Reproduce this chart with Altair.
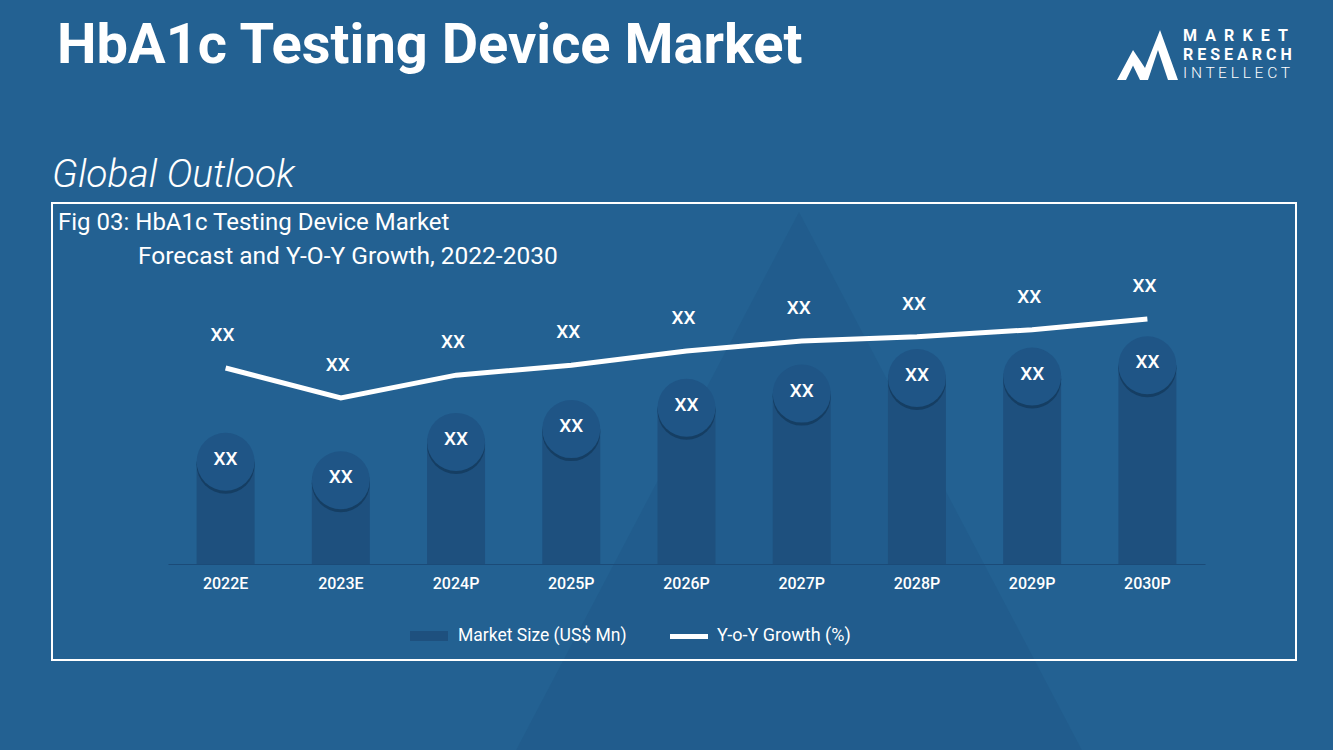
import altair as alt
import pandas as pd

# ---- data ----
years = ["2022E", "2023E", "2024P", "2025P", "2026P", "2027P", "2028P", "2029P", "2030P"]
market_size = [36, 29.5, 43, 47.5, 55, 60, 65.5, 66, 70]
yoy_growth = [13.8, 11.7, 13.3, 14.0, 15.0, 15.7, 16.0, 16.5, 17.25]
bar_labels = ["XX"] * 9
line_labels = ["XX"] * 9

df = pd.DataFrame({
    "year": years,
    "market_size": market_size,
    "yoy": yoy_growth,
    "bar_label": bar_labels,
    "line_label": line_labels,
})

BG = "#236192"
BAR = "#1e507e"
CIRCLE = "#1f5586"
SHADOW = "#143c60"
FONT = "Roboto"

x_enc = alt.X("year:N", sort=years, title=None,
              scale=alt.Scale(paddingInner=0, paddingOuter=0),
              axis=alt.Axis(labelColor="white", labelFontSize=16, labelFont=FONT,
                            labelFontWeight=500, ticks=False, domainColor="#1b4b78",
                            domainWidth=1, labelPadding=11, labelAngle=0, zindex=1))
y_ms = alt.Y("market_size:Q", scale=alt.Scale(domain=[0, 100]), axis=None)
y_g = alt.Y("yoy:Q", scale=alt.Scale(domain=[0, 20]), axis=None)

one = alt.Data(values=[{}])

# decorative background triangle (custom symbol path)
tri = alt.Chart(one).mark_point(
    shape="M0,-0.897L0.943,0.897L-0.943,0.897Z", filled=True, fill="#1a4d7c",
    opacity=0.22, strokeWidth=0, size=360000
).encode(x=alt.value(631), y=alt.value(201))

frame = alt.Chart(one).mark_rect(fill=None, stroke="white", strokeWidth=2).encode(
    x=alt.value(-116), x2=alt.value(1128), y=alt.value(-77), y2=alt.value(380))

base = alt.Chart(df)
bars = base.mark_bar(width=58, color=BAR).encode(x=x_enc, y=y_ms)
shadow = base.mark_circle(size=3364, color=SHADOW, opacity=0.9, yOffset=3).encode(x=x_enc, y=y_ms)
circ = base.mark_circle(size=3364, color=CIRCLE, opacity=1).encode(x=x_enc, y=y_ms)
blab = base.mark_text(color="white", fontSize=19, font=FONT, fontWeight=500, dy=-3).encode(
    x=x_enc, y=y_ms, text="bar_label:N")
line = base.mark_line(color="white", strokeWidth=5).encode(x=x_enc, y=y_g)
llab = base.mark_text(color="white", fontSize=19, font=FONT, fontWeight=500, dy=-33, dx=-3).encode(
    x=x_enc, y=y_g, text="line_label:N")

def txt(t, x, y, size, weight="normal", style="normal", align="left", baseline="alphabetic", color="white", font=FONT):
    return alt.Chart(one).mark_text(text=t, fontSize=size, fontWeight=weight, fontStyle=style,
                                    align=align, baseline=baseline, color=color, font=font).encode(
        x=alt.value(x), y=alt.value(y))

title = txt("HbA1c Testing Device Market", -111, -217, 56, weight="bold")
sub = txt("Global Outlook", -116, -93, 39, style="italic", weight=300)
fig1 = txt("Fig 03: HbA1c Testing Device Market", -110, -50, 24)
fig2 = txt("Forecast and Y-O-Y Growth, 2022-2030", -30, -16, 24.5)

leg_rect = alt.Chart(one).mark_rect(color=BAR).encode(
    x=alt.value(242), x2=alt.value(280), y=alt.value(351), y2=alt.value(361))
leg_t1 = txt("Market Size (US$ Mn)", 290, 356, 17.5, weight="normal", baseline="middle")
leg_rule = alt.Chart(one).mark_rule(color="white", strokeWidth=5).encode(
    x=alt.value(502), x2=alt.value(540), y=alt.value(356.5))
leg_t2 = txt("Y-o-Y Growth (%)", 549, 356, 18, weight="normal", baseline="middle")

logo = alt.Chart(one).mark_point(
    shape="M-1,0.82L-0.475,-0.164L-0.082,0.426L0.41,-0.82L1,0.82L0.672,0.82L0.344,-0.164L0.016,0.82L-0.246,0.82L-0.475,0.344L-0.705,0.82Z",
    filled=True, fill="white", strokeWidth=0, opacity=1, size=3721
).encode(x=alt.value(979.5), y=alt.value(-225))
lg1 = txt("M\u2002A\u2002R\u2002K\u2002E\u2002T", 1015, -244, 16, weight="bold", baseline="middle")
lg2 = txt("R E S E A R C H", 1015, -225, 16, weight="bold", baseline="middle")
lg3 = txt("I N T E L L E C T", 1015, -207, 15.5, weight=300, baseline="middle")

chart = alt.layer(
    tri, frame, bars, shadow, circ, blab, line, llab,
    title, sub, fig1, fig2, leg_rect, leg_t1, leg_rule, leg_t2, logo, lg1, lg2, lg3
).resolve_scale(y="independent").properties(
    width=1037, height=284,
    padding={"left": 168, "top": 280, "right": 128, "bottom": 186},
    autosize=alt.AutoSizeParams(type="none"),
    background=BG,
).configure_view(strokeWidth=0)

chart.save("out.html", embed_options={"renderer": "svg", "actions": False})
